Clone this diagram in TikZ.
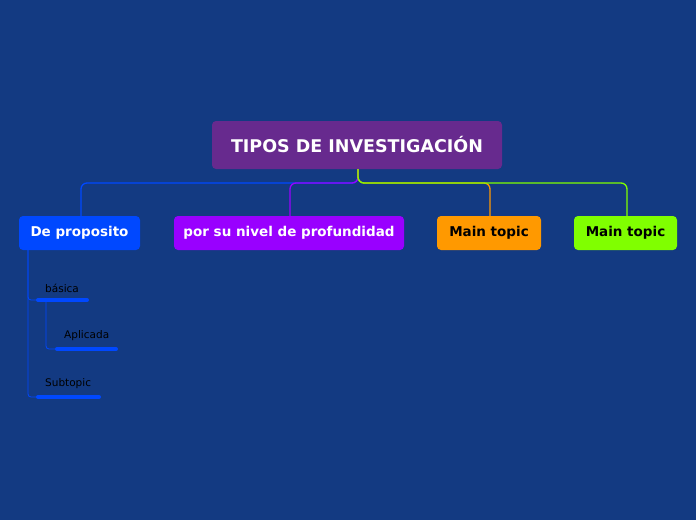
\documentclass[tikz,border=0pt]{standalone}
\usepackage{fontspec}
\setmainfont{DejaVu Sans}
\usetikzlibrary{positioning}
\definecolor{bg}{HTML}{133A82}
\definecolor{rootc}{HTML}{672A8E}
\definecolor{bluec}{HTML}{0048FF}
\definecolor{purplec}{HTML}{9900FF}
\definecolor{orangec}{HTML}{FF9900}
\definecolor{greenc}{HTML}{80FF00}
\tikzset{
    topicbox/.style={rounded corners=4pt, font=\bfseries\fontsize{13.5}{15}\selectfont, inner sep=0pt, minimum height=34pt},
    link/.style={rounded corners=6pt, line width=1.3pt},
    subtext/.style={font=\fontsize{10.5}{12}\selectfont, anchor=west, inner sep=0pt},
    bar/.style={line width=4pt, line cap=round, bluec}
}
\begin{document}
\begin{tikzpicture}[x=1pt,y=-1pt]
    \fill[bg] (0,0) rectangle (696,520);
    \useasboundingbox (0,0) rectangle (696,520);
    % main topic and branches
    \node[topicbox, fill=rootc, text=white, minimum width=290pt, minimum height=48pt, font=\bfseries\fontsize{17.5}{20}\selectfont] (root) at (357,145) {TIPOS DE INVESTIGACIÓN};
    \node[topicbox, fill=bluec, text=white, minimum width=121pt] (prop) at (79.5,233) {De proposito};
    \node[topicbox, fill=purplec, text=white, minimum width=230pt] (nivel) at (289,233) {por su nivel de profundidad};
    \node[topicbox, fill=orangec, text=black, minimum width=104pt] (mainA) at (489,233) {Main topic};
    \node[topicbox, fill=greenc, text=black, minimum width=103pt] (mainB) at (625.5,233) {Main topic};
    \coordinate (fork) at (358,169);
    \draw[link, bluec] (fork) |- (81,183) -- (prop.north -| 81,0);
    \draw[link, purplec] (fork) |- (290,183) -- (nivel.north -| 290,0);
    \draw[link, orangec] (fork) |- (490,183) -- (mainA.north -| 490,0);
    \draw[link, greenc] (fork) |- (627,183) -- (mainB.north -| 627,0);
    % subtopics
    \node[subtext, text=black] (basica) at (45,288) {básica};
    \node[subtext, text=black] (aplic) at (64,336) {Aplicada};
    \node[subtext, text=black] (subt) at (45,384) {Subtopic};
    \coordinate (bA) at (38,300);
    \coordinate (bB) at (57,349);
    \coordinate (bC) at (38,397);
    \draw[bar] (bA) -- (87,300);
    \draw[bar] (bB) -- (116,349);
    \draw[bar] (bC) -- (99,397);
    \draw[bluec, line width=0.8pt, rounded corners=3pt] (prop.south -| 28,0) |- (bA);
    \draw[bluec, line width=0.8pt, rounded corners=3pt] (prop.south -| 28,0) |- (bC);
    \draw[bluec, line width=0.8pt, rounded corners=3pt] (46,300) |- (bB);
\end{tikzpicture}
\end{document}
